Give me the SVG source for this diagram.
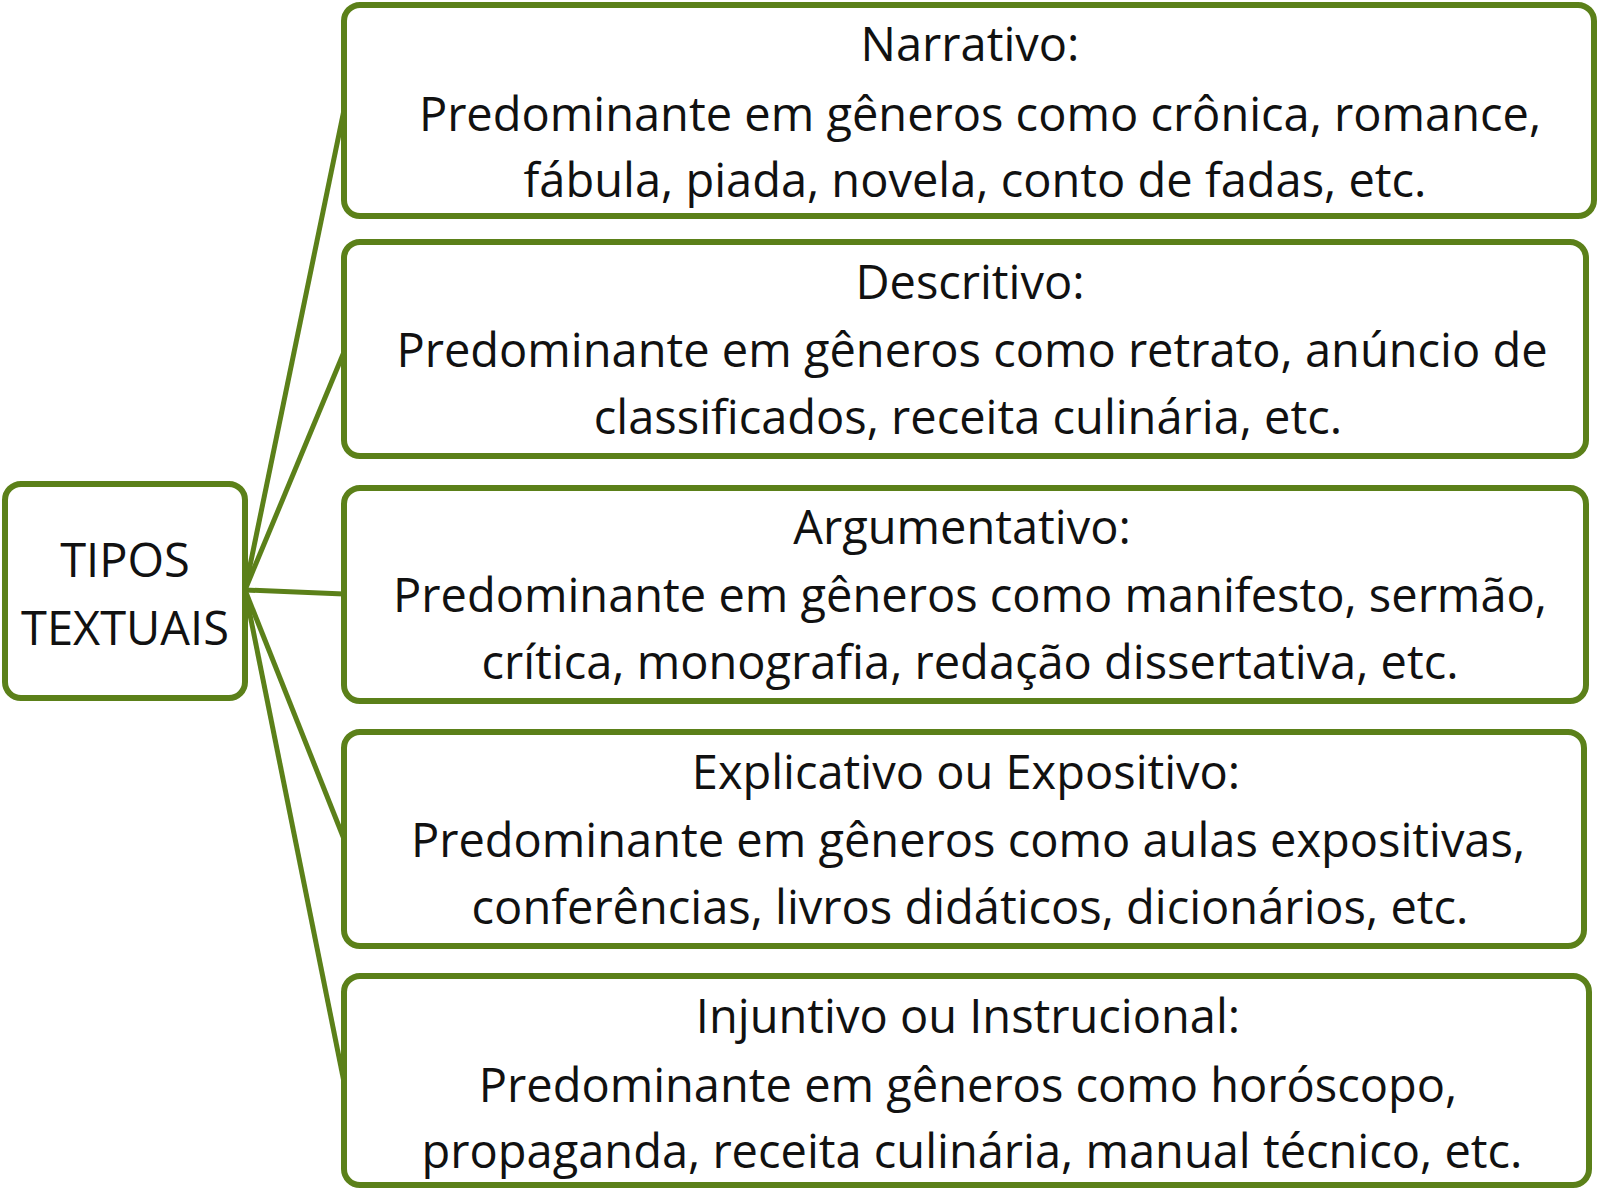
<svg xmlns="http://www.w3.org/2000/svg" width="1600" height="1195" viewBox="0 0 1600 1195">
<style>
.b{fill:#fff;stroke:#5b8019;stroke-width:6}
.c{stroke:#5b8019;stroke-width:5;fill:none}
text{font-family:"Open Sans","Liberation Sans",sans-serif;font-size:47px;fill:#111;text-anchor:middle}
</style>
<rect width="1600" height="1195" fill="#fff"/>
<g id="connectors">
<line class="c" x1="245" y1="590" x2="344" y2="110"/>
<line class="c" x1="245" y1="590" x2="344" y2="352"/>
<line class="c" x1="245" y1="590" x2="344" y2="594"/>
<line class="c" x1="245" y1="590" x2="344" y2="839"/>
<line class="c" x1="245" y1="590" x2="344" y2="1082"/>
</g>
<g id="root"><rect class="b" x="5" y="484" width="240" height="214" rx="16"/>
<text x="125" y="577">TIPOS</text><text x="125" y="645">TEXTUAIS</text></g>
<g id="n1"><rect class="b" x="344" y="5" width="1250" height="211" rx="16"/>
<text x="970" y="61">Narrativo:</text><text x="980" y="131">Predominante em gêneros como crônica, romance,</text><text x="975" y="197">fábula, piada, novela, conto de fadas, etc.</text></g>
<g id="n2"><rect class="b" x="344" y="242" width="1242" height="214" rx="16"/>
<text x="970" y="299">Descritivo:</text><text x="972" y="367">Predominante em gêneros como retrato, anúncio de</text><text x="968" y="434">classificados, receita culinária, etc.</text></g>
<g id="n3"><rect class="b" x="344" y="488" width="1242" height="213" rx="16"/>
<text x="962" y="544">Argumentativo:</text><text x="970" y="612">Predominante em gêneros como manifesto, sermão,</text><text x="970" y="679">crítica, monografia, redação dissertativa, etc.</text></g>
<g id="n4"><rect class="b" x="344" y="732" width="1240" height="214" rx="16"/>
<text x="966" y="789">Explicativo ou Expositivo:</text><text x="968" y="857">Predominante em gêneros como aulas expositivas,</text><text x="970" y="924">conferências, livros didáticos, dicionários, etc.</text></g>
<g id="n5"><rect class="b" x="344" y="976" width="1245" height="209" rx="16"/>
<text x="968" y="1033">Injuntivo ou Instrucional:</text><text x="968" y="1102">Predominante em gêneros como horóscopo,</text><text x="972" y="1168">propaganda, receita culinária, manual técnico, etc.</text></g>
</svg>
